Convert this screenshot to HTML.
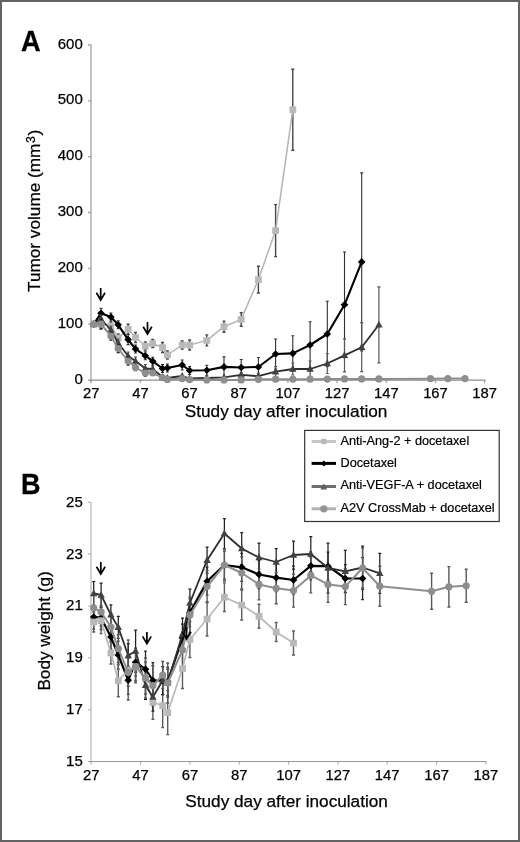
<!DOCTYPE html>
<html><head><meta charset="utf-8"><title>Figure</title>
<style>
html,body{margin:0;padding:0;background:#fff;}
#fig{position:relative;width:520px;height:842px;overflow:hidden;background:#fff;}
#frame{position:absolute;left:0;top:0;width:516px;height:838px;border:2px solid #636363;box-sizing:content-box;pointer-events:none}
</style></head><body>
<div id="fig">
<svg width="520" height="842" viewBox="0 0 520 842" style="position:absolute;left:0;top:0"><path d="M91 44.5V383M88 324.2H91M88 268.3H91M88 212.5H91M88 156.7H91M88 100.9H91M88 45.0H91M91.2 380V383M140.4 380V383M189.6 380V383M238.7 380V383M287.9 380V383M337.1 380V383M386.3 380V383M435.5 380V383M484.6 380V383" stroke="#a3a3a3" stroke-width="1.3" fill="none"/><path d="M88 380.1H485.5" stroke="#8e8e8e" stroke-width="1.1" fill="none"/><path d="M91 502.3V764M88 709.7H91M88 657.8H91M88 606.0H91M88 554.1H91M88 502.3H91M91.2 761.5V764.5M140.5 761.5V764.5M189.9 761.5V764.5M239.2 761.5V764.5M288.6 761.5V764.5M337.9 761.5V764.5M387.2 761.5V764.5M436.6 761.5V764.5M485.9 761.5V764.5" stroke="#b0b0b0" stroke-width="1.1" fill="none"/><path d="M88 761.5H486.5" stroke="#9a9a9a" stroke-width="1" fill="none"/><g font-family="Liberation Sans, Arial, Helvetica, sans-serif" fill="#000" stroke="#000" stroke-width="0.25"><text transform="translate(20.9 51.4) scale(0.916 1)" font-size="29.7" font-weight="bold" stroke-width="0.3">A</text><text transform="translate(20.9 493.6) scale(0.916 1)" font-size="29.5" font-weight="bold" stroke-width="0.3">B</text><g font-size="15" text-anchor="end"><text x="82.8" y="383.5">0</text><text x="82.8" y="327.7">100</text><text x="82.8" y="271.8">200</text><text x="82.8" y="216.0">300</text><text x="82.8" y="160.2">400</text><text x="82.8" y="104.4">500</text><text x="82.8" y="48.5">600</text><text x="82.8" y="765.9">15</text><text x="82.8" y="714.1">17</text><text x="82.8" y="662.2">19</text><text x="82.8" y="610.4">21</text><text x="82.8" y="558.5">23</text><text x="82.8" y="506.7">25</text></g><g font-size="14.8" text-anchor="middle"><text x="91.2" y="398.3">27</text><text x="91.2" y="780.1">27</text><text x="140.4" y="398.3">47</text><text x="140.5" y="780.1">47</text><text x="189.6" y="398.3">67</text><text x="189.9" y="780.1">67</text><text x="238.7" y="398.3">87</text><text x="239.2" y="780.1">87</text><text x="287.9" y="398.3">107</text><text x="288.6" y="780.1">107</text><text x="337.1" y="398.3">127</text><text x="337.9" y="780.1">127</text><text x="386.3" y="398.3">147</text><text x="387.2" y="780.1">147</text><text x="435.5" y="398.3">167</text><text x="436.6" y="780.1">167</text><text x="484.6" y="398.3">187</text><text x="485.9" y="780.1">187</text></g><text x="286.1" y="417.2" font-size="17.2" text-anchor="middle">Study day after inoculation</text><text x="286.6" y="806.7" font-size="17.2" text-anchor="middle">Study day after inoculation</text><text transform="translate(39.7 210.9) rotate(-90)" font-size="17.2" text-anchor="middle">Tumor volume (mm<tspan font-size="12.3" dy="-4.9" dx="0.7">3</tspan><tspan dy="4.9" dx="0.5">)</tspan></text><text transform="translate(50 630.9) rotate(-90)" font-size="17.2" text-anchor="middle">Body weight (g)</text></g><path d="M101.0 320.2V328.2M99.5 320.2h3.0M99.5 328.2h3.0M110.9 322.0V330.0M109.4 322.0h3.0M109.4 330.0h3.0M118.2 334.0V342.0M116.7 334.0h3.0M116.7 342.0h3.0M128.1 324.3V334.3M126.6 324.3h3.0M126.6 334.3h3.0M135.5 332.5V342.5M134.0 332.5h3.0M134.0 342.5h3.0M145.3 342.0V350.0M143.8 342.0h3.0M143.8 350.0h3.0M152.7 339.5V347.5M151.2 339.5h3.0M151.2 347.5h3.0M162.5 342.5V352.5M161.0 342.5h3.0M161.0 352.5h3.0M167.4 351.0V359.0M165.9 351.0h3.0M165.9 359.0h3.0M182.2 341.0V349.0M180.7 341.0h3.0M180.7 349.0h3.0M189.6 340.0V350.0M188.1 340.0h3.0M188.1 350.0h3.0M206.8 334.9V345.9M205.3 334.9h3.0M205.3 345.9h3.0M224.0 321.1V332.3M222.5 321.1h3.0M222.5 332.3h3.0M241.2 312.6V326.2M239.7 312.6h3.0M239.7 326.2h3.0M258.4 266.2V293.0M256.9 266.2h3.0M256.9 293.0h3.0M275.6 204.6V256.6M274.1 204.6h3.0M274.1 256.6h3.0M292.8 69.2V150.2M291.3 69.2h3.0M291.3 150.2h3.0" stroke="#484848" stroke-width="1.4" fill="none"/><polyline points="93.7,324.2 101.0,324.2 110.9,326.0 118.2,338.0 128.1,329.3 135.5,337.5 145.3,346.0 152.7,343.5 162.5,347.5 167.4,355.0 182.2,345.0 189.6,345.0 206.8,340.4 224.0,326.7 241.2,319.4 258.4,279.6 275.6,230.6 292.8,109.7" stroke="#b4b4b4" stroke-width="1.5" fill="none" stroke-linejoin="round"/><g fill="#b9b9b9"><rect x="90.3" y="320.9" width="6.8" height="6.7"/><rect x="97.6" y="320.9" width="6.8" height="6.7"/><rect x="107.5" y="322.7" width="6.8" height="6.7"/><rect x="114.8" y="334.7" width="6.8" height="6.7"/><rect x="124.7" y="326.0" width="6.8" height="6.7"/><rect x="132.1" y="334.2" width="6.8" height="6.7"/><rect x="141.9" y="342.7" width="6.8" height="6.7"/><rect x="149.3" y="340.2" width="6.8" height="6.7"/><rect x="159.1" y="344.2" width="6.8" height="6.7"/><rect x="164.0" y="351.7" width="6.8" height="6.7"/><rect x="178.8" y="341.7" width="6.8" height="6.7"/><rect x="186.2" y="341.7" width="6.8" height="6.7"/><rect x="203.4" y="337.1" width="6.8" height="6.7"/><rect x="220.6" y="323.4" width="6.8" height="6.7"/><rect x="237.8" y="316.1" width="6.8" height="6.7"/><rect x="255.0" y="276.3" width="6.8" height="6.7"/><rect x="272.2" y="227.3" width="6.8" height="6.7"/><rect x="289.4" y="106.4" width="6.8" height="6.7"/></g><path d="M101.0 308.3V318.3M99.5 308.3h3.0M99.5 318.3h3.0M110.9 313.0V321.0M109.4 313.0h3.0M109.4 321.0h3.0M118.2 320.8V328.8M116.7 320.8h3.0M116.7 328.8h3.0M128.1 334.6V344.6M126.6 334.6h3.0M126.6 344.6h3.0M135.5 345.0V353.0M134.0 345.0h3.0M134.0 353.0h3.0M145.3 351.7V359.7M143.8 351.7h3.0M143.8 359.7h3.0M152.7 357.2V365.2M151.2 357.2h3.0M151.2 365.2h3.0M162.5 364.5V372.5M161.0 364.5h3.0M161.0 372.5h3.0M167.4 364.0V372.0M165.9 364.0h3.0M165.9 372.0h3.0M182.2 360.0V370.0M180.7 360.0h3.0M180.7 370.0h3.0M189.6 366.5V374.5M188.1 366.5h3.0M188.1 374.5h3.0M206.8 365.3V375.3M205.3 365.3h3.0M205.3 375.3h3.0M224.0 356.9V376.9M222.5 356.9h3.0M222.5 376.9h3.0M241.2 359.5V375.5M239.7 359.5h3.0M239.7 375.5h3.0M258.4 357.5V376.5M256.9 357.5h3.0M256.9 376.5h3.0M275.6 339.0V369.0M274.1 339.0h3.0M274.1 369.0h3.0M292.8 335.7V371.1M291.3 335.7h3.0M291.3 371.1h3.0M310.1 321.7V368.3M308.6 321.7h3.0M308.6 368.3h3.0M327.3 301.3V366.7M325.8 301.3h3.0M325.8 366.7h3.0M344.5 252.0V357.6M343.0 252.0h3.0M343.0 357.6h3.0M361.7 172.9V350.9M360.2 172.9h3.0M360.2 350.9h3.0" stroke="#303030" stroke-width="1.1" fill="none"/><polyline points="93.7,324.2 101.0,313.3 110.9,317.0 118.2,324.8 128.1,339.6 135.5,349.0 145.3,355.7 152.7,361.2 162.5,368.5 167.4,368.0 182.2,365.0 189.6,370.5 206.8,370.3 224.0,366.9 241.2,367.5 258.4,367.0 275.6,354.0 292.8,353.4 310.1,345.0 327.3,334.0 344.5,304.8 361.7,261.9" stroke="#000" stroke-width="2.1" fill="none" stroke-linejoin="round"/><g fill="#000"><path d="M93.7 320.4l3.8 3.8l-3.8 3.8l-3.8 -3.8z"/><path d="M101.0 309.5l3.8 3.8l-3.8 3.8l-3.8 -3.8z"/><path d="M110.9 313.2l3.8 3.8l-3.8 3.8l-3.8 -3.8z"/><path d="M118.2 321.0l3.8 3.8l-3.8 3.8l-3.8 -3.8z"/><path d="M128.1 335.8l3.8 3.8l-3.8 3.8l-3.8 -3.8z"/><path d="M135.5 345.2l3.8 3.8l-3.8 3.8l-3.8 -3.8z"/><path d="M145.3 351.9l3.8 3.8l-3.8 3.8l-3.8 -3.8z"/><path d="M152.7 357.4l3.8 3.8l-3.8 3.8l-3.8 -3.8z"/><path d="M162.5 364.7l3.8 3.8l-3.8 3.8l-3.8 -3.8z"/><path d="M167.4 364.2l3.8 3.8l-3.8 3.8l-3.8 -3.8z"/><path d="M182.2 361.2l3.8 3.8l-3.8 3.8l-3.8 -3.8z"/><path d="M189.6 366.7l3.8 3.8l-3.8 3.8l-3.8 -3.8z"/><path d="M206.8 366.5l3.8 3.8l-3.8 3.8l-3.8 -3.8z"/><path d="M224.0 363.1l3.8 3.8l-3.8 3.8l-3.8 -3.8z"/><path d="M241.2 363.7l3.8 3.8l-3.8 3.8l-3.8 -3.8z"/><path d="M258.4 363.2l3.8 3.8l-3.8 3.8l-3.8 -3.8z"/><path d="M275.6 350.2l3.8 3.8l-3.8 3.8l-3.8 -3.8z"/><path d="M292.8 349.6l3.8 3.8l-3.8 3.8l-3.8 -3.8z"/><path d="M310.1 341.2l3.8 3.8l-3.8 3.8l-3.8 -3.8z"/><path d="M327.3 330.2l3.8 3.8l-3.8 3.8l-3.8 -3.8z"/><path d="M344.5 301.0l3.8 3.8l-3.8 3.8l-3.8 -3.8z"/><path d="M361.7 258.1l3.8 3.8l-3.8 3.8l-3.8 -3.8z"/></g><path d="M101.0 315.0V323.0M99.5 315.0h3.0M99.5 323.0h3.0M110.9 326.0V334.0M109.4 326.0h3.0M109.4 334.0h3.0M118.2 339.0V347.0M116.7 339.0h3.0M116.7 347.0h3.0M128.1 352.0V360.0M126.6 352.0h3.0M126.6 360.0h3.0M135.5 357.0V365.0M134.0 357.0h3.0M134.0 365.0h3.0M145.3 364.5V372.5M143.8 364.5h3.0M143.8 372.5h3.0M152.7 366.0V372.0M151.2 366.0h3.0M151.2 372.0h3.0M162.5 375.0V379.0M161.0 375.0h3.0M161.0 379.0h3.0M241.2 372.8V376.8M239.7 372.8h3.0M239.7 376.8h3.0M258.4 373.2V379.0M256.9 373.2h3.0M256.9 379.0h3.0M275.6 366.7V376.7M274.1 366.7h3.0M274.1 376.7h3.0M292.8 363.0V375.0M291.3 363.0h3.0M291.3 375.0h3.0M310.1 361.0V377.0M308.6 361.0h3.0M308.6 377.0h3.0M327.3 353.5V373.5M325.8 353.5h3.0M325.8 373.5h3.0M344.5 338.9V371.9M343.0 338.9h3.0M343.0 371.9h3.0M361.7 322.7V371.7M360.2 322.7h3.0M360.2 371.7h3.0M378.9 286.8V362.8M377.4 286.8h3.0M377.4 362.8h3.0" stroke="#585858" stroke-width="1.2" fill="none"/><polyline points="93.7,324.2 101.0,319.0 110.9,330.0 118.2,343.0 128.1,356.0 135.5,361.0 145.3,368.5 152.7,369.0 162.5,377.0 167.4,378.0 182.2,376.0 189.6,378.5 206.8,378.0 224.0,377.4 241.2,374.8 258.4,376.2 275.6,371.7 292.8,369.0 310.1,369.0 327.3,363.5 344.5,355.4 361.7,347.2 378.9,324.8" stroke="#2e2e2e" stroke-width="1.8" fill="none" stroke-linejoin="round"/><g fill="#424242"><path d="M93.7 320.1l3.7 6.8h-7.4z"/><path d="M101.0 314.9l3.7 6.8h-7.4z"/><path d="M110.9 325.9l3.7 6.8h-7.4z"/><path d="M118.2 338.9l3.7 6.8h-7.4z"/><path d="M128.1 351.9l3.7 6.8h-7.4z"/><path d="M135.5 356.9l3.7 6.8h-7.4z"/><path d="M145.3 364.4l3.7 6.8h-7.4z"/><path d="M152.7 364.9l3.7 6.8h-7.4z"/><path d="M162.5 372.9l3.7 6.8h-7.4z"/><path d="M167.4 373.9l3.7 6.8h-7.4z"/><path d="M182.2 371.9l3.7 6.8h-7.4z"/><path d="M189.6 374.4l3.7 6.8h-7.4z"/><path d="M206.8 373.9l3.7 6.8h-7.4z"/><path d="M224.0 373.3l3.7 6.8h-7.4z"/><path d="M241.2 370.7l3.7 6.8h-7.4z"/><path d="M258.4 372.1l3.7 6.8h-7.4z"/><path d="M275.6 367.6l3.7 6.8h-7.4z"/><path d="M292.8 364.9l3.7 6.8h-7.4z"/><path d="M310.1 364.9l3.7 6.8h-7.4z"/><path d="M327.3 359.4l3.7 6.8h-7.4z"/><path d="M344.5 351.3l3.7 6.8h-7.4z"/><path d="M361.7 343.1l3.7 6.8h-7.4z"/><path d="M378.9 320.7l3.7 6.8h-7.4z"/></g><path d="M101.0 319.2V329.2M99.5 319.2h3.0M99.5 329.2h3.0M110.9 332.0V340.0M109.4 332.0h3.0M109.4 340.0h3.0M118.2 344.5V352.5M116.7 344.5h3.0M116.7 352.5h3.0M128.1 357.0V365.0M126.6 357.0h3.0M126.6 365.0h3.0M135.5 364.5V370.5M134.0 364.5h3.0M134.0 370.5h3.0M145.3 370.0V376.0M143.8 370.0h3.0M143.8 376.0h3.0M152.7 371.0V375.0M151.2 371.0h3.0M151.2 375.0h3.0" stroke="#222" stroke-width="1.25" fill="none"/><polyline points="93.7,324.2 101.0,324.2 110.9,336.0 118.2,348.5 128.1,361.0 135.5,367.5 145.3,373.0 152.7,373.0 162.5,377.7 167.4,379.4 182.2,378.6 189.6,379.6 206.8,379.9 224.0,379.9 241.2,379.9 258.4,379.3 275.6,379.2 292.8,379.2 310.1,379.2 327.3,379.1 344.5,378.9 361.7,378.9 378.9,378.9 430.5,378.7 447.8,378.6 465.0,378.6" stroke="#8e8e8e" stroke-width="2.0" fill="none" stroke-linejoin="round"/><g fill="#8e8e8e"><circle cx="93.7" cy="324.2" r="3.6"/><circle cx="101.0" cy="324.2" r="3.6"/><circle cx="110.9" cy="336.0" r="3.6"/><circle cx="118.2" cy="348.5" r="3.6"/><circle cx="128.1" cy="361.0" r="3.6"/><circle cx="135.5" cy="367.5" r="3.6"/><circle cx="145.3" cy="373.0" r="3.6"/><circle cx="152.7" cy="373.0" r="3.6"/><circle cx="162.5" cy="377.7" r="3.6"/><circle cx="167.4" cy="379.4" r="3.6"/><circle cx="182.2" cy="378.6" r="3.6"/><circle cx="189.6" cy="379.6" r="3.6"/><circle cx="206.8" cy="379.9" r="3.6"/><circle cx="224.0" cy="379.9" r="3.6"/><circle cx="241.2" cy="379.9" r="3.6"/><circle cx="258.4" cy="379.3" r="3.6"/><circle cx="275.6" cy="379.2" r="3.6"/><circle cx="292.8" cy="379.2" r="3.6"/><circle cx="310.1" cy="379.2" r="3.6"/><circle cx="327.3" cy="379.1" r="3.6"/><circle cx="344.5" cy="378.9" r="3.6"/><circle cx="361.7" cy="378.9" r="3.6"/><circle cx="378.9" cy="378.9" r="3.6"/><circle cx="430.5" cy="378.7" r="3.6"/><circle cx="447.8" cy="378.6" r="3.6"/><circle cx="465.0" cy="378.6" r="3.6"/></g><path d="M100.7 288.1V300.0M96.4 292.8L100.7 300.0L105.0 292.8" stroke="#000" stroke-width="1.7" fill="none" stroke-linejoin="miter" stroke-miterlimit="10"/><path d="M147.5 321.9V334.0M143.2 326.8L147.5 334.0L151.8 326.8" stroke="#000" stroke-width="1.7" fill="none" stroke-linejoin="miter" stroke-miterlimit="10"/><path d="M93.7 605.0V629.0M92.3 605.0h2.7M92.3 629.0h2.7M101.1 605.7V629.7M99.7 605.7h2.7M99.7 629.7h2.7M110.9 625.0V649.0M109.6 625.0h2.7M109.6 649.0h2.7M118.3 641.0V669.0M117.0 641.0h2.7M117.0 669.0h2.7M128.2 666.3V694.3M126.9 666.3h2.7M126.9 694.3h2.7M135.6 648.2V676.2M134.3 648.2h2.7M134.3 676.2h2.7M145.5 651.2V687.2M144.1 651.2h2.7M144.1 687.2h2.7M152.9 662.5V698.5M151.5 662.5h2.7M151.5 698.5h2.7M162.7 666.5V694.5M161.4 666.5h2.7M161.4 694.5h2.7M167.7 667.4V695.4M166.3 667.4h2.7M166.3 695.4h2.7M182.5 624.0V652.0M181.1 624.0h2.7M181.1 652.0h2.7M189.9 598.6V626.6M188.5 598.6h2.7M188.5 626.6h2.7M207.1 567.2V595.2M205.8 567.2h2.7M205.8 595.2h2.7M224.4 551.0V579.0M223.1 551.0h2.7M223.1 579.0h2.7M241.7 553.3V581.3M240.3 553.3h2.7M240.3 581.3h2.7M259.0 560.5V588.5M257.6 560.5h2.7M257.6 588.5h2.7M276.2 563.7V591.7M274.9 563.7h2.7M274.9 591.7h2.7M293.5 566.0V594.0M292.1 566.0h2.7M292.1 594.0h2.7M310.8 551.8V579.8M309.4 551.8h2.7M309.4 579.8h2.7M328.0 552.2V580.2M326.7 552.2h2.7M326.7 580.2h2.7M345.3 564.5V592.5M344.0 564.5h2.7M344.0 592.5h2.7M362.6 557.5V599.5M361.2 557.5h2.7M361.2 599.5h2.7" stroke="#222" stroke-width="1.25" fill="none"/><path d="M93.7 612.0V632.0M92.2 612.0h3.0M92.2 632.0h3.0M101.1 607.6V633.6M99.6 607.6h3.0M99.6 633.6h3.0M110.9 642.0V664.0M109.4 642.0h3.0M109.4 664.0h3.0M118.3 664.8V696.8M116.8 664.8h3.0M116.8 696.8h3.0M128.2 640.0V700.0M126.7 640.0h3.0M126.7 700.0h3.0M135.6 650.7V682.7M134.1 650.7h3.0M134.1 682.7h3.0M145.5 662.0V694.0M144.0 662.0h3.0M144.0 694.0h3.0M152.9 685.2V719.2M151.4 685.2h3.0M151.4 719.2h3.0M162.7 683.6V727.6M161.2 683.6h3.0M161.2 727.6h3.0M167.7 690.6V734.6M166.2 690.6h3.0M166.2 734.6h3.0M182.5 648.5V688.5M181.0 648.5h3.0M181.0 688.5h3.0M189.9 621.5V657.5M188.4 621.5h3.0M188.4 657.5h3.0M207.1 602.0V636.0M205.6 602.0h3.0M205.6 636.0h3.0M224.4 582.9V611.5M222.9 582.9h3.0M222.9 611.5h3.0M241.7 590.0V620.0M240.2 590.0h3.0M240.2 620.0h3.0M259.0 604.3V628.3M257.5 604.3h3.0M257.5 628.3h3.0M276.2 622.5V641.5M274.7 622.5h3.0M274.7 641.5h3.0M293.5 631.0V655.0M292.0 631.0h3.0M292.0 655.0h3.0" stroke="#5e5e5e" stroke-width="1.4" fill="none"/><path d="M93.7 581.5V605.5M92.2 581.5h3.0M92.2 605.5h3.0M101.1 583.0V607.0M99.6 583.0h3.0M99.6 607.0h3.0M110.9 604.9V624.9M109.4 604.9h3.0M109.4 624.9h3.0M118.3 616.4V638.4M116.8 616.4h3.0M116.8 638.4h3.0M128.2 643.5V667.5M126.7 643.5h3.0M126.7 667.5h3.0M135.6 630.0V672.0M134.1 630.0h3.0M134.1 672.0h3.0M145.5 671.4V699.4M144.0 671.4h3.0M144.0 699.4h3.0M152.9 683.0V711.0M151.4 683.0h3.0M151.4 711.0h3.0M162.7 666.5V694.5M161.2 666.5h3.0M161.2 694.5h3.0M167.7 669.0V697.0M166.2 669.0h3.0M166.2 697.0h3.0M182.5 618.0V650.0M181.0 618.0h3.0M181.0 650.0h3.0M189.9 589.0V617.0M188.4 589.0h3.0M188.4 617.0h3.0M207.1 547.2V573.2M205.6 547.2h3.0M205.6 573.2h3.0M224.4 518.5V548.5M222.9 518.5h3.0M222.9 548.5h3.0M241.7 532.5V564.5M240.2 532.5h3.0M240.2 564.5h3.0M259.0 543.0V572.0M257.5 543.0h3.0M257.5 572.0h3.0M276.2 548.5V575.5M274.7 548.5h3.0M274.7 575.5h3.0M293.5 541.0V569.0M292.0 541.0h3.0M292.0 569.0h3.0M310.8 536.5V571.5M309.3 536.5h3.0M309.3 571.5h3.0M328.0 543.0V593.0M326.5 543.0h3.0M326.5 593.0h3.0M345.3 550.3V592.3M343.8 550.3h3.0M343.8 592.3h3.0M362.6 546.0V589.0M361.1 546.0h3.0M361.1 589.0h3.0M379.8 553.3V593.3M378.3 553.3h3.0M378.3 593.3h3.0" stroke="#222" stroke-width="1.25" fill="none"/><path d="M93.7 593.8V621.8M92.2 593.8h3.0M92.2 621.8h3.0M101.1 598.0V626.0M99.6 598.0h3.0M99.6 626.0h3.0M110.9 613.0V641.0M109.4 613.0h3.0M109.4 641.0h3.0M118.3 634.7V662.7M116.8 634.7h3.0M116.8 662.7h3.0M128.2 658.3V686.3M126.7 658.3h3.0M126.7 686.3h3.0M135.6 652.8V680.8M134.1 652.8h3.0M134.1 680.8h3.0M145.5 658.0V698.0M144.0 658.0h3.0M144.0 698.0h3.0M152.9 665.7V705.7M151.4 665.7h3.0M151.4 705.7h3.0M162.7 661.5V688.5M161.2 661.5h3.0M161.2 688.5h3.0M167.7 663.0V703.0M166.2 663.0h3.0M166.2 703.0h3.0M182.5 632.0V668.0M181.0 632.0h3.0M181.0 668.0h3.0M189.9 596.9V632.9M188.4 596.9h3.0M188.4 632.9h3.0M207.1 570.5V602.5M205.6 570.5h3.0M205.6 602.5h3.0M224.4 549.0V581.0M222.9 549.0h3.0M222.9 581.0h3.0M241.7 557.0V589.0M240.2 557.0h3.0M240.2 589.0h3.0M259.0 568.9V599.9M257.5 568.9h3.0M257.5 599.9h3.0M276.2 572.8V603.8M274.7 572.8h3.0M274.7 603.8h3.0M293.5 574.1V607.1M292.0 574.1h3.0M292.0 607.1h3.0M310.8 557.9V592.9M309.3 557.9h3.0M309.3 592.9h3.0M328.0 566.4V602.4M326.5 566.4h3.0M326.5 602.4h3.0M345.3 568.6V604.6M343.8 568.6h3.0M343.8 604.6h3.0M362.6 548.0V588.0M361.1 548.0h3.0M361.1 588.0h3.0M379.8 566.2V606.2M378.3 566.2h3.0M378.3 606.2h3.0M431.6 573.3V609.3M430.1 573.3h3.0M430.1 609.3h3.0M448.9 566.6V607.0M447.4 566.6h3.0M447.4 607.0h3.0M466.2 569.3V602.3M464.7 569.3h3.0M464.7 602.3h3.0" stroke="#585858" stroke-width="1.4" fill="none"/><polyline points="93.7,617.0 101.1,617.7 110.9,637.0 118.3,655.0 128.2,680.3 135.6,662.2 145.5,669.2 152.9,680.5 162.7,680.5 167.7,681.4 182.5,638.0 189.9,612.6 207.1,581.2 224.4,565.0 241.7,567.3 259.0,574.5 276.2,577.7 293.5,580.0 310.8,565.8 328.0,566.2 345.3,578.5 362.6,578.5" stroke="#000" stroke-width="2.2" fill="none" stroke-linejoin="round"/><g fill="#000"><path d="M93.7 613.2l3.8 3.8l-3.8 3.8l-3.8 -3.8z"/><path d="M101.1 613.9l3.8 3.8l-3.8 3.8l-3.8 -3.8z"/><path d="M110.9 633.2l3.8 3.8l-3.8 3.8l-3.8 -3.8z"/><path d="M118.3 651.2l3.8 3.8l-3.8 3.8l-3.8 -3.8z"/><path d="M128.2 676.5l3.8 3.8l-3.8 3.8l-3.8 -3.8z"/><path d="M135.6 658.4l3.8 3.8l-3.8 3.8l-3.8 -3.8z"/><path d="M145.5 665.4l3.8 3.8l-3.8 3.8l-3.8 -3.8z"/><path d="M152.9 676.7l3.8 3.8l-3.8 3.8l-3.8 -3.8z"/><path d="M162.7 676.7l3.8 3.8l-3.8 3.8l-3.8 -3.8z"/><path d="M167.7 677.6l3.8 3.8l-3.8 3.8l-3.8 -3.8z"/><path d="M182.5 634.2l3.8 3.8l-3.8 3.8l-3.8 -3.8z"/><path d="M189.9 608.8l3.8 3.8l-3.8 3.8l-3.8 -3.8z"/><path d="M207.1 577.4l3.8 3.8l-3.8 3.8l-3.8 -3.8z"/><path d="M224.4 561.2l3.8 3.8l-3.8 3.8l-3.8 -3.8z"/><path d="M241.7 563.5l3.8 3.8l-3.8 3.8l-3.8 -3.8z"/><path d="M259.0 570.7l3.8 3.8l-3.8 3.8l-3.8 -3.8z"/><path d="M276.2 573.9l3.8 3.8l-3.8 3.8l-3.8 -3.8z"/><path d="M293.5 576.2l3.8 3.8l-3.8 3.8l-3.8 -3.8z"/><path d="M310.8 562.0l3.8 3.8l-3.8 3.8l-3.8 -3.8z"/><path d="M328.0 562.4l3.8 3.8l-3.8 3.8l-3.8 -3.8z"/><path d="M345.3 574.7l3.8 3.8l-3.8 3.8l-3.8 -3.8z"/><path d="M362.6 574.7l3.8 3.8l-3.8 3.8l-3.8 -3.8z"/></g><polyline points="93.7,622.0 101.1,620.6 110.9,653.0 118.3,680.8 128.2,670.0 135.6,666.7 145.5,678.0 152.9,702.2 162.7,705.6 167.7,712.6 182.5,668.5 189.9,639.5 207.1,619.0 224.4,597.2 241.7,605.0 259.0,616.3 276.2,632.0 293.5,643.0" stroke="#b9b9b9" stroke-width="1.7" fill="none" stroke-linejoin="round"/><g fill="#b9b9b9"><rect x="90.3" y="618.7" width="6.8" height="6.7"/><rect x="97.7" y="617.3" width="6.8" height="6.7"/><rect x="107.5" y="649.7" width="6.8" height="6.7"/><rect x="114.9" y="677.5" width="6.8" height="6.7"/><rect x="124.8" y="666.7" width="6.8" height="6.7"/><rect x="132.2" y="663.4" width="6.8" height="6.7"/><rect x="142.1" y="674.7" width="6.8" height="6.7"/><rect x="149.5" y="698.9" width="6.8" height="6.7"/><rect x="159.3" y="702.3" width="6.8" height="6.7"/><rect x="164.3" y="709.3" width="6.8" height="6.7"/><rect x="179.1" y="665.2" width="6.8" height="6.7"/><rect x="186.5" y="636.2" width="6.8" height="6.7"/><rect x="203.7" y="615.7" width="6.8" height="6.7"/><rect x="221.0" y="593.9" width="6.8" height="6.7"/><rect x="238.3" y="601.7" width="6.8" height="6.7"/><rect x="255.6" y="613.0" width="6.8" height="6.7"/><rect x="272.8" y="628.7" width="6.8" height="6.7"/><rect x="290.1" y="639.7" width="6.8" height="6.7"/></g><polyline points="93.7,593.5 101.1,595.0 110.9,614.9 118.3,627.4 128.2,655.5 135.6,651.0 145.5,685.4 152.9,697.0 162.7,680.5 167.7,683.0 182.5,634.0 189.9,603.0 207.1,560.2 224.4,533.5 241.7,548.5 259.0,557.5 276.2,562.0 293.5,555.0 310.8,554.0 328.0,568.0 345.3,571.3 362.6,567.5 379.8,573.3" stroke="#2e2e2e" stroke-width="1.8" fill="none" stroke-linejoin="round"/><g fill="#424242"><path d="M93.7 589.4l3.7 6.8h-7.4z"/><path d="M101.1 590.9l3.7 6.8h-7.4z"/><path d="M110.9 610.8l3.7 6.8h-7.4z"/><path d="M118.3 623.3l3.7 6.8h-7.4z"/><path d="M128.2 651.4l3.7 6.8h-7.4z"/><path d="M135.6 646.9l3.7 6.8h-7.4z"/><path d="M145.5 681.3l3.7 6.8h-7.4z"/><path d="M152.9 692.9l3.7 6.8h-7.4z"/><path d="M162.7 676.4l3.7 6.8h-7.4z"/><path d="M167.7 678.9l3.7 6.8h-7.4z"/><path d="M182.5 629.9l3.7 6.8h-7.4z"/><path d="M189.9 598.9l3.7 6.8h-7.4z"/><path d="M207.1 556.1l3.7 6.8h-7.4z"/><path d="M224.4 529.4l3.7 6.8h-7.4z"/><path d="M241.7 544.4l3.7 6.8h-7.4z"/><path d="M259.0 553.4l3.7 6.8h-7.4z"/><path d="M276.2 557.9l3.7 6.8h-7.4z"/><path d="M293.5 550.9l3.7 6.8h-7.4z"/><path d="M310.8 549.9l3.7 6.8h-7.4z"/><path d="M328.0 563.9l3.7 6.8h-7.4z"/><path d="M345.3 567.2l3.7 6.8h-7.4z"/><path d="M362.6 563.4l3.7 6.8h-7.4z"/><path d="M379.8 569.2l3.7 6.8h-7.4z"/></g><polyline points="93.7,607.8 101.1,612.0 110.9,627.0 118.3,648.7 128.2,672.3 135.6,666.8 145.5,678.0 152.9,685.7 162.7,675.0 167.7,683.0 182.5,650.0 189.9,614.9 207.1,586.5 224.4,565.0 241.7,573.0 259.0,584.4 276.2,588.3 293.5,590.6 310.8,575.4 328.0,584.4 345.3,586.6 362.6,568.0 379.8,586.2 431.6,591.3 448.9,586.8 466.2,585.8" stroke="#8e8e8e" stroke-width="2" fill="none" stroke-linejoin="round"/><g fill="#8e8e8e"><circle cx="93.7" cy="607.8" r="3.6"/><circle cx="101.1" cy="612.0" r="3.6"/><circle cx="110.9" cy="627.0" r="3.6"/><circle cx="118.3" cy="648.7" r="3.6"/><circle cx="128.2" cy="672.3" r="3.6"/><circle cx="135.6" cy="666.8" r="3.6"/><circle cx="145.5" cy="678.0" r="3.6"/><circle cx="152.9" cy="685.7" r="3.6"/><circle cx="162.7" cy="675.0" r="3.6"/><circle cx="167.7" cy="683.0" r="3.6"/><circle cx="182.5" cy="650.0" r="3.6"/><circle cx="189.9" cy="614.9" r="3.6"/><circle cx="207.1" cy="586.5" r="3.6"/><circle cx="224.4" cy="565.0" r="3.6"/><circle cx="241.7" cy="573.0" r="3.6"/><circle cx="259.0" cy="584.4" r="3.6"/><circle cx="276.2" cy="588.3" r="3.6"/><circle cx="293.5" cy="590.6" r="3.6"/><circle cx="310.8" cy="575.4" r="3.6"/><circle cx="328.0" cy="584.4" r="3.6"/><circle cx="345.3" cy="586.6" r="3.6"/><circle cx="362.6" cy="568.0" r="3.6"/><circle cx="379.8" cy="586.2" r="3.6"/><circle cx="431.6" cy="591.3" r="3.6"/><circle cx="448.9" cy="586.8" r="3.6"/><circle cx="466.2" cy="585.8" r="3.6"/></g><path d="M100.8 562.1V574.0M96.5 566.8L100.8 574.0L105.1 566.8" stroke="#000" stroke-width="1.7" fill="none" stroke-linejoin="miter" stroke-miterlimit="10"/><path d="M146.9 631.9V643.6M142.6 636.4L146.9 643.6L151.20000000000002 636.4" stroke="#000" stroke-width="1.7" fill="none" stroke-linejoin="miter" stroke-miterlimit="10"/><path d="M186.5 627.1V639.0M182.2 631.8L186.5 639.0L190.8 631.8" stroke="#000" stroke-width="1.7" fill="none" stroke-linejoin="miter" stroke-miterlimit="10"/><rect x="304.7" y="430.4" width="194.5" height="91.1" fill="#fff" stroke="#333" stroke-width="1.2"/><g font-family="Liberation Sans, Arial, Helvetica, sans-serif" font-size="12.7" fill="#000" stroke="#000" stroke-width="0.2"><path d="M311.6 441.5H336" stroke="#c6c6c6" stroke-width="3"/><rect x="321.2" y="438.9" width="5.2" height="5.2" fill="#b9b9b9" stroke="none"/><text x="340.5" y="445.4">Anti-Ang-2 + docetaxel</text><path d="M311.6 463.4H336" stroke="#000" stroke-width="3"/><path d="M323.8 460.4l3 3l-3 3l-3 -3z" fill="#000" stroke="none"/><text x="340.5" y="467.0">Docetaxel</text><path d="M311.6 486.5H336" stroke="#6e6e6e" stroke-width="3"/><path d="M323.8 483.6l3.4 5.9h-6.8z" fill="#5e5e5e" stroke="none"/><text x="340.5" y="489.4">Anti-VEGF-A + docetaxel</text><path d="M311.6 508.8H336" stroke="#b2b2b2" stroke-width="3"/><circle cx="323.8" cy="508.8" r="3.6" fill="#959595" stroke="none"/><text x="340.5" y="512.4">A2V CrossMab + docetaxel</text></g></svg>
<div id="frame"></div>
</div>
</body></html>
